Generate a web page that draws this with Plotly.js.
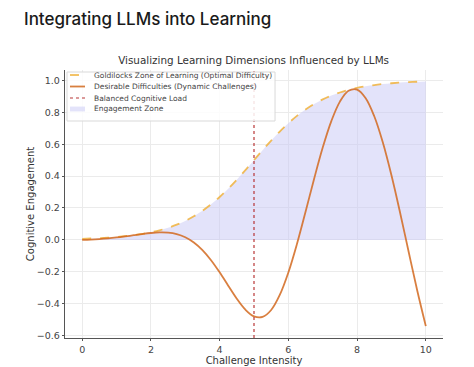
<!DOCTYPE html>
<html>
<head>
<meta charset="utf-8">
<script src="https://cdn.plot.ly/plotly-3.0.1.min.js"></script>
<style>html,body{margin:0;padding:0;background:#fff;}#chart{width:474px;height:367px;}</style>
</head>
<body>
<div id="chart"></div>
<script>
const challenge = [0,0.25,0.5,0.75,1,1.25,1.5,1.75,2,2.25,2.5,2.75,3,3.25,3.5,3.75,4,4.25,4.5,4.75,5,5.25,5.5,5.75,6,6.25,6.5,6.75,7,7.25,7.5,7.75,8,8.25,8.5,8.75,9,9.25,9.5,9.75,10];
const goldilocks = [0.0067,0.0086,0.0110,0.0141,0.0180,0.0230,0.0293,0.0373,0.0474,0.0601,0.0759,0.0953,0.1192,0.1480,0.1824,0.2227,0.2689,0.3208,0.3775,0.4378,0.5,0.5622,0.6225,0.6792,0.7311,0.7773,0.8176,0.8520,0.8808,0.9047,0.9241,0.9399,0.9526,0.9627,0.9707,0.9770,0.9820,0.9860,0.9890,0.9914,0.9933];
const desirable = [0,0.0021,0.0053,0.0096,0.0151,0.0218,0.0292,0.0367,0.0431,0.0468,0.0454,0.0364,0.0168,-0.0160,-0.0640,-0.1273,-0.2035,-0.2871,-0.3690,-0.4375,-0.4795,-0.4829,-0.4392,-0.3452,-0.2043,-0.0258,0.1759,0.3834,0.5787,0.7447,0.8668,0.9348,0.9425,0.8884,0.7751,0.6103,0.4047,0.1719,-0.0744,-0.3168,-0.5404];
const balancedLoad = 5;
const legendLabels = ['Goldilocks Zone of Learning (Optimal Difficulty)','Desirable Difficulties (Dynamic Challenges)','Balanced Cognitive Load','Engagement Zone'];
const xTicks = [0,2,4,6,8,10];
const yTicks = [-0.6,-0.4,-0.2,0.0,0.2,0.4,0.6,0.8,1.0];
const xRange = [-0.5,10.5];
const yRange = [-0.615,1.065];

const font = 'DejaVu Sans, sans-serif';
const cGold = '#f0b23c', cDes = '#d2691e', cBal = '#b22222', cFill = 'rgba(200,200,245,0.5)';
const traces = [
  {x: challenge, y: goldilocks, type:'scatter', mode:'none', fill:'tozeroy',
   fillcolor:cFill, name:legendLabels[3], line:{shape:'spline'}},
  {x: challenge, y: goldilocks, type:'scatter', mode:'lines',
   line:{color:cGold, width:1.8, dash:'dash', shape:'spline'}, opacity:0.85, name:legendLabels[0]},
  {x: challenge, y: desirable, type:'scatter', mode:'lines',
   line:{color:cDes, width:1.8, shape:'spline'}, opacity:0.85, name:legendLabels[1]},
  {x: [balancedLoad, balancedLoad], y: yRange, type:'scatter', mode:'lines',
   line:{color:cBal, width:1.2, dash:'dot'}, opacity:0.9, name:legendLabels[2]}
];

// custom compact legend (paper coordinates)
const lgX0 = 0.0053, lgX1 = 0.5556, lgY0 = 0.8097, lgY1 = 0.9925;
const rowY = [0.9813, 0.9384, 0.8955, 0.8545];
const symX0 = 0.0132, symX1 = 0.0529, txtX = 0.0714;
const shapes = [
  {type:'rect', xref:'paper', yref:'paper', x0:lgX0, x1:lgX1, y0:lgY0, y1:lgY1, layer:'above',
   fillcolor:'rgba(255,255,255,0.85)', line:{color:'#d9d9d9', width:1}},
  {type:'line', xref:'paper', yref:'paper', x0:symX0, x1:symX1, y0:rowY[0], y1:rowY[0], layer:'above',
   line:{color:cGold, width:1.8, dash:'dash'}, opacity:0.85},
  {type:'line', xref:'paper', yref:'paper', x0:symX0, x1:symX1, y0:rowY[1], y1:rowY[1], layer:'above',
   line:{color:cDes, width:1.8}, opacity:0.85},
  {type:'line', xref:'paper', yref:'paper', x0:symX0, x1:symX1, y0:rowY[2], y1:rowY[2], layer:'above',
   line:{color:cBal, width:1.2, dash:'dot'}, opacity:0.9},
  {type:'rect', xref:'paper', yref:'paper', x0:symX0, x1:symX1, y0:rowY[3]-0.009, y1:rowY[3]+0.009, layer:'above',
   fillcolor:cFill, line:{width:0}}
];
const annotations = legendLabels.map((t,i)=>({text:t, xref:'paper', yref:'paper', x:txtX, y:rowY[i],
  xanchor:'left', yanchor:'middle', showarrow:false, font:{family:font, size:7.5, color:'#444'}}));
annotations.push({text:'Integrating LLMs into Learning', xref:'paper', yref:'paper', x:-0.115, y:1.19,
  xanchor:'left', yanchor:'middle', showarrow:false, font:{family:'Inter, sans-serif', size:17, color:'#1a1a1a', weight:500}});

const layout = {
  width:474, height:367,
  paper_bgcolor:'#fff', plot_bgcolor:'#fff',
  margin:{l:65, r:31, t:70, b:29},
  font:{family:font, color:'#333', size:10},
  title:{text:'Visualizing Learning Dimensions Influenced by LLMs', font:{family:font, size:10.4, color:'#333'},
    x:0.535, xanchor:'center', y:0.835, yanchor:'middle'},
  showlegend:false,
  shapes:shapes, annotations:annotations,
  xaxis:{range:xRange, tickvals:xTicks, ticktext:xTicks.map(String), showgrid:true, gridcolor:'#ebebeb',
    zeroline:false, showline:true, linecolor:'#555', linewidth:1.2, ticks:'outside', ticklen:2, tickcolor:'#555',
    tickfont:{size:9.5, color:'#444'}, title:{text:'Challenge Intensity', font:{size:10, color:'#333'}, standoff:2}},
  yaxis:{range:yRange, tickvals:yTicks, ticktext:yTicks.map(v=>v.toFixed(1).replace('-','\u2212')), showgrid:true, gridcolor:'#ebebeb',
    zeroline:false, showline:true, linecolor:'#555', linewidth:1.2, ticks:'outside', ticklen:2, tickcolor:'#555',
    tickfont:{size:9.5, color:'#444'}, title:{text:'Cognitive Engagement', font:{size:10, color:'#333'}, standoff:0}}
};
Plotly.newPlot('chart', traces, layout, {displayModeBar:false, staticPlot:true});
</script>
</body>
</html>
